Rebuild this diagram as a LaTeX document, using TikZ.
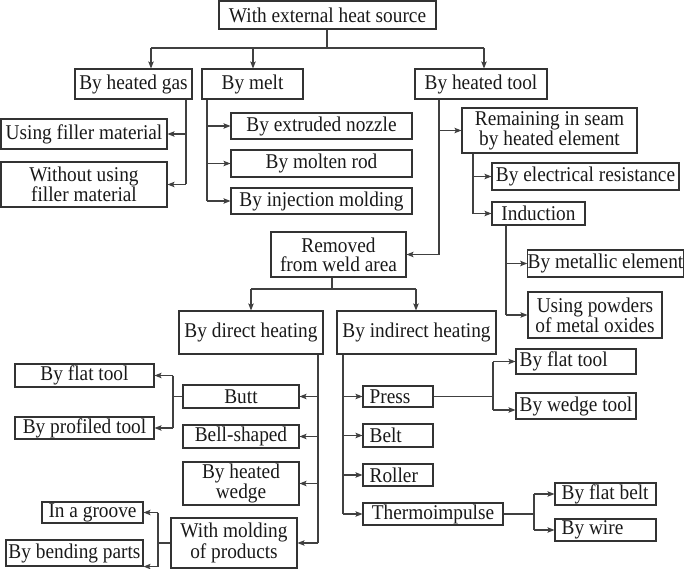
\documentclass[tikz,border=0pt]{standalone}
\usepackage{fontspec}
\setmainfont{Liberation Serif}[FakeStretch=0.92]
\usetikzlibrary{arrows.meta}
\tikzset{
  box/.style={draw=black!80, line width=1.1bp, inner sep=0pt, align=center, text=black!90},
  lab/.style={anchor=west, inner sep=0pt, text=black!90},
  ln/.style={draw=black!75, line width=1.1bp},
  arr/.style={ln, -{Stealth[length=7bp,width=5.5bp,inset=1.5bp]}}
}
\newcommand\mkbox[7][]{%
  \pgfmathsetmacro\bw{#5-#3}\pgfmathsetmacro\bh{#6-#4}%
  \pgfmathsetmacro\bcx{(#3+#5)/2}\pgfmathsetmacro\bcy{(#4+#6)/2}%
  \node[box,minimum width=\bw bp,minimum height=\bh bp,#1] (#2) at (\bcx,\bcy) {#7};}
\begin{document}
\begin{tikzpicture}[x=1bp,y=-1bp,font=\fontsize{21bp}{19bp}\selectfont]
\useasboundingbox (0,0) rectangle (685,569);
% boxes
\mkbox{top}{219}{1}{436}{29}{With external heat source}
\mkbox{gas}{75}{69}{192}{99}{By heated gas}
\mkbox{melt}{202}{69}{303}{99}{By melt}
\mkbox{tool}{415}{69}{547}{99}{By heated tool}
\mkbox{ufm}{1}{119}{167}{149}{Using filler material}
\mkbox{wfm}{1}{162}{167}{207}{Without using\\filler material}
\mkbox{ext}{231}{113}{412}{139}{By extruded nozzle}
\mkbox{rod}{231}{150}{412}{177}{By molten rod}
\mkbox{inj}{231}{188}{412}{214}{By injection molding}
\mkbox{seam}{462}{108}{637}{153}{Remaining in seam\\by heated element}
\mkbox{elec}{492}{163}{679}{190}{By electrical resistance}
\mkbox{ind}{492}{202}{585}{225}{Induction}
\mkbox{metal}{528}{250}{683}{277}{By metallic element}
\mkbox{powd}{528}{292}{662}{338}{Using powders\\of metal oxides}
\mkbox{rem}{271}{232}{406}{277}{Removed\\from weld area}
\mkbox{dir}{179}{311}{323}{354}{By direct heating}
\mkbox{indir}{337}{311}{496}{354}{By indirect heating}
\mkbox{butt}{183}{385}{299}{408}{Butt}
\mkbox{bell}{183}{425}{299}{448}{Bell-shaped}
\mkbox{wedge}{183}{462}{299}{505}{By heated\\wedge}
\mkbox{mold}{171}{518}{297}{568}{With molding\\of products}
\mkbox{ftl}{15}{364}{154}{387}{By flat tool}
\mkbox{ptl}{15}{417}{154}{439}{By profiled tool}
\mkbox{groove}{42}{502}{143}{523}{In a groove}
\mkbox{bend}{6}{540}{143}{566}{By bending parts}
\mkbox[label={[lab,xshift=7bp]west:Press}]{press}{363}{386}{433}{407}{}
\mkbox[label={[lab,xshift=7bp]west:Belt}]{belt}{363}{424}{433}{447}{}
\mkbox[label={[lab,xshift=7bp]west:Roller}]{roller}{363}{464}{433}{486}{}
\mkbox{thermo}{363}{503}{503}{525}{Thermoimpulse}
\mkbox[label={[lab,xshift=4bp]west:By flat tool}]{ftr}{516}{349}{636}{374}{}
\mkbox[label={[lab,xshift=4bp]west:By wedge tool}]{wtr}{516}{393}{636}{419}{}
\mkbox[label={[lab,xshift=7bp]west:By flat belt}]{fbelt}{555}{483}{656}{505}{}
\mkbox[label={[lab,xshift=7bp]west:By wire}]{wire}{555}{519}{656}{541}{}
% junction coordinates
\coordinate (tbL) at (151,48); \coordinate (tbM) at (253,48);
\coordinate (tbR) at (484,48); \coordinate (tbS) at (327,48);
\coordinate (gx) at (186,0); \coordinate (mx) at (207,0);
\coordinate (hx) at (439,0); \coordinate (sx) at (473,0);
\coordinate (ix) at (506,0);
\coordinate (rS) at (332,289); \coordinate (rL) at (251,289); \coordinate (rR) at (416,289);
\coordinate (dx) at (318,0); \coordinate (bx) at (173,0); \coordinate (ox) at (158,0);
\coordinate (nx) at (343,0); \coordinate (px) at (493,0); \coordinate (pw) at (493,410);
\coordinate (qx) at (534,0);
% top level
\draw[ln] (top.south -| tbS) -- (tbS);
\draw[ln] (tbL) -- (tbR);
\draw[arr] (tbL) -- (tbL |- gas.north);
\draw[arr] (tbM) -- (tbM |- melt.north);
\draw[arr] (tbR) -- (tbR |- tool.north);
% heated gas
\draw[ln] (gas.south -| gx) -- (gx |- wfm.east);
\draw[arr] (gx |- ufm.east) -- (ufm.east);
\draw[arr] (gx |- wfm.east) -- (wfm.east);
% melt
\draw[ln] (melt.south -| mx) -- (mx |- inj.west);
\draw[arr] (mx |- ext.west) -- (ext.west);
\draw[arr] (mx |- rod.west) -- (rod.west);
\draw[arr] (mx |- inj.west) -- (inj.west);
% heated tool
\draw[ln] (tool.south -| hx) -- (hx |- rem.east);
\draw[arr] (hx |- seam.west) -- (seam.west);
\draw[arr] (hx |- rem.east) -- (rem.east);
% remaining in seam
\draw[ln] (seam.south -| sx) -- (sx |- ind.west);
\draw[arr] (sx |- elec.west) -- (elec.west);
\draw[arr] (sx |- ind.west) -- (ind.west);
% induction
\draw[ln] (ind.south -| ix) -- (ix |- powd.west);
\draw[arr] (ix |- metal.west) -- (metal.west);
\draw[arr] (ix |- powd.west) -- (powd.west);
% removed
\draw[ln] (rem.south -| rS) -- (rS);
\draw[ln] (rL) -- (rR);
\draw[arr] (rL) -- (rL |- dir.north);
\draw[arr] (rR) -- (rR |- indir.north);
% direct heating
\draw[ln] (dir.south -| dx) -- (dx |- mold.east);
\draw[arr] (dx |- butt.east) -- (butt.east);
\draw[arr] (dx |- bell.east) -- (bell.east);
\draw[arr] (dx |- wedge.east) -- (wedge.east);
\draw[arr] (dx |- mold.east) -- (mold.east);
% butt
\draw[ln] (butt.west) -- (bx |- butt.west);
\draw[ln] (bx |- ftl.east) -- (bx |- ptl.east);
\draw[arr] (bx |- ftl.east) -- (ftl.east);
\draw[arr] (bx |- ptl.east) -- (ptl.east);
% molding
\draw[ln] (mold.west) -- (ox |- mold.west);
\draw[ln] (ox |- groove.east) -- (ox |- bend.south east);
\draw[arr] (ox |- groove.east) -- (groove.east);
\draw[arr] (ox |- bend.south east) -- (bend.south east);
% indirect heating
\draw[ln] (indir.south -| nx) -- (nx |- thermo.west);
\draw[arr] (nx |- press.west) -- (press.west);
\draw[arr] (nx |- belt.west) -- (belt.west);
\draw[arr] (nx |- roller.west) -- (roller.west);
\draw[arr] (nx |- thermo.west) -- (thermo.west);
% press
\draw[ln] (press.east) -- (px |- press.east);
\draw[ln] (px |- ftr.west) -- (pw);
\draw[arr] (px |- ftr.west) -- (ftr.west);
\draw[arr] (pw) -- (pw -| wtr.west);
% thermoimpulse
\draw[ln] (thermo.east) -- (qx |- thermo.east);
\draw[ln] (qx |- fbelt.west) -- (qx |- wire.west);
\draw[arr] (qx |- fbelt.west) -- (fbelt.west);
\draw[arr] (qx |- wire.west) -- (wire.west);
\end{tikzpicture}
\end{document}
